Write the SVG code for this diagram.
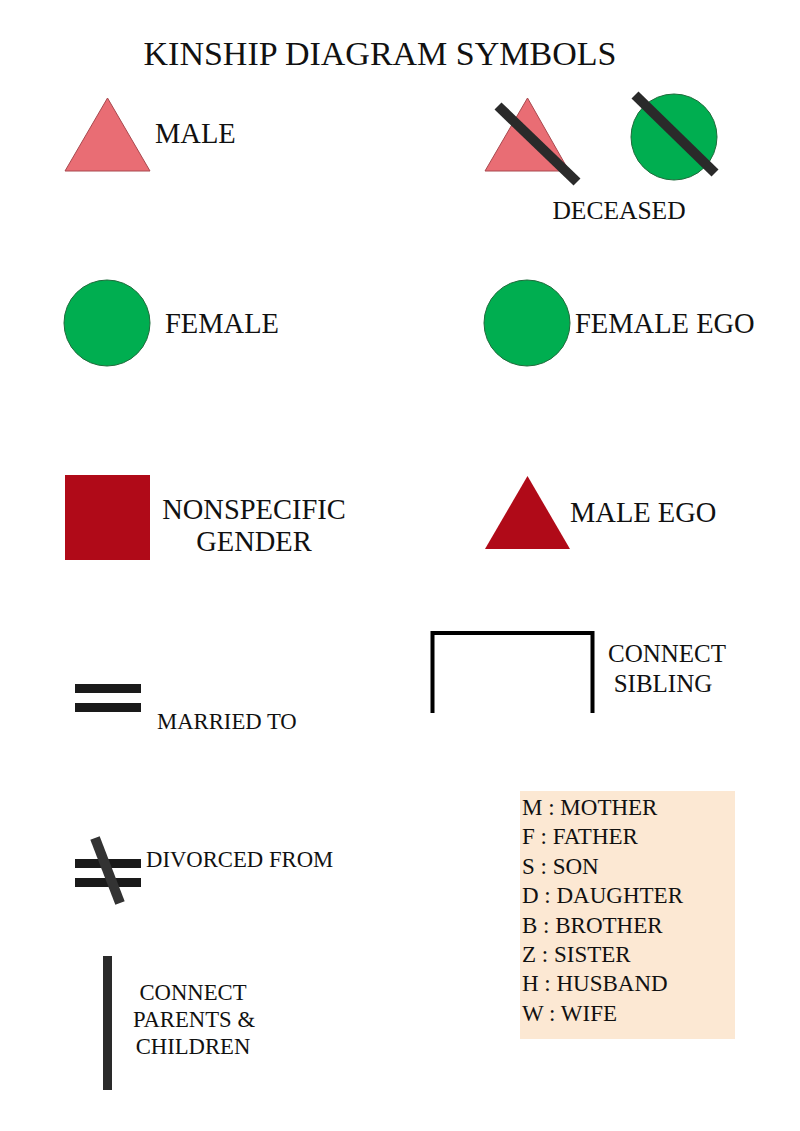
<svg xmlns="http://www.w3.org/2000/svg" width="800" height="1131" viewBox="0 0 800 1131">
<style>
text{font-family:"Liberation Serif","Times New Roman",serif;fill:#111}
.t{font-size:34px}
.l{font-size:28.5px}
.d{font-size:25.5px}
.c{font-size:25px}
.m{font-size:23px}
.s{font-size:22.7px}
.male{fill:#E96D74;stroke:#A8484E;stroke-width:1}
.fem{fill:#00AE50;stroke:#1E6B3A;stroke-width:1}
.red{fill:#B00A18}
.slash{stroke:#2A2A2A;stroke-width:10}
.bar{fill:#1A1A1A}
</style>
<rect width="800" height="1131" fill="#fff"/>
<text class="t" x="380" y="65" text-anchor="middle">KINSHIP DIAGRAM SYMBOLS</text>
<g id="male">
<polygon class="male" points="107.5,98 65,171 150,171"/>
<text class="l" x="155" y="143">MALE</text>
</g>
<g id="deceased">
<polygon class="male" points="527.5,98 485,171 569,171"/>
<line class="slash" x1="498" y1="106" x2="577" y2="182"/>
<circle class="fem" cx="674" cy="137" r="43"/>
<line class="slash" x1="635" y1="95" x2="715" y2="173"/>
<text class="d" x="619" y="219" text-anchor="middle">DECEASED</text>
</g>
<g id="female">
<circle class="fem" cx="107" cy="323" r="43"/>
<text class="l" x="165" y="333">FEMALE</text>
</g>
<g id="female-ego">
<circle class="fem" cx="527" cy="323" r="43"/>
<text class="l" x="575" y="333">FEMALE EGO</text>
</g>
<g id="nonspecific">
<rect class="red" x="65" y="475" width="85" height="85"/>
<text class="l" x="254" y="519" text-anchor="middle">NONSPECIFIC</text>
<text class="l" x="254" y="551" text-anchor="middle">GENDER</text>
</g>
<g id="male-ego">
<polygon class="red" points="527.5,476 485,549 570,549"/>
<text class="l" x="570" y="522">MALE EGO</text>
</g>
<g id="married">
<rect class="bar" x="75" y="684" width="66" height="9"/>
<rect class="bar" x="75" y="703" width="66" height="9"/>
<text class="s" x="157" y="729">MARRIED TO</text>
</g>
<g id="divorced">
<rect class="bar" x="75" y="859" width="66" height="9"/>
<rect class="bar" x="75" y="878" width="66" height="9"/>
<line x1="95" y1="838" x2="120" y2="903" stroke="#333" stroke-width="10"/>
<text class="s" x="146" y="867">DIVORCED FROM</text>
</g>
<g id="connectors">
<g id="connect-sibling">
<polyline points="432.5,713 432.5,633 592.5,633 592.5,713" fill="none" stroke="#000" stroke-width="4"/>
</g>
<g id="connect-parents">
<rect x="103" y="956" width="9" height="134" fill="#2A2A2A"/>
</g>
</g>
<g id="sibling-label">
<text class="c" x="667" y="662" text-anchor="middle">CONNECT</text>
<text class="c" x="663" y="692" text-anchor="middle">SIBLING</text>
</g>
<g id="parents-label">
<text class="s" x="193" y="1000" text-anchor="middle">CONNECT</text>
<text class="s" x="194" y="1027" text-anchor="middle">PARENTS &amp;</text>
<text class="s" x="193" y="1054" text-anchor="middle">CHILDREN</text>
</g>
<g id="legend">
<rect x="520" y="791" width="215" height="248" fill="#FCE8D3"/>
<text class="m" x="522" y="815">M : MOTHER</text>
<text class="m" x="522" y="844">F : FATHER</text>
<text class="m" x="522" y="874">S : SON</text>
<text class="m" x="522" y="903">D : DAUGHTER</text>
<text class="m" x="522" y="933">B : BROTHER</text>
<text class="m" x="522" y="962">Z : SISTER</text>
<text class="m" x="522" y="991">H : HUSBAND</text>
<text class="m" x="522" y="1021">W : WIFE</text>
</g>
</svg>
